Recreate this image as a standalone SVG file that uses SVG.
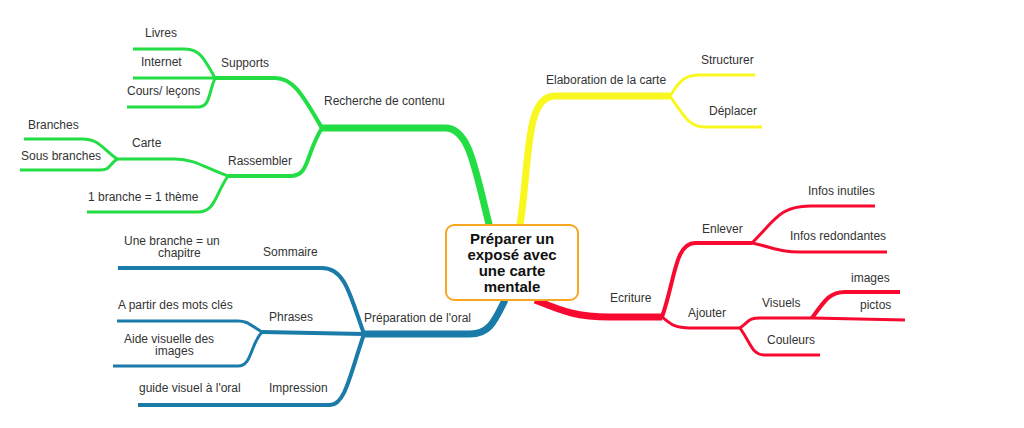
<svg xmlns="http://www.w3.org/2000/svg" width="1024" height="428" viewBox="0 0 1024 428">
<style>
.g{stroke:#22dd44}.b{stroke:#1b7ba8}.y{stroke:#f8f820}.r{stroke:#f80a30}
path{fill:none;stroke-linecap:butt}
.w1{stroke-width:7}.w2{stroke-width:4}.w3{stroke-width:3}
text{font-family:"Liberation Sans",Arial,sans-serif;font-size:12px;fill:#333}
.t{font-size:15px;font-weight:bold;fill:#111;text-anchor:middle}
</style>
<rect width="1024" height="428" fill="#fff"/>
<g id="connectors">
<path class="g w1" d="M490,228 C475,170 470,128 445,128 L322,128"/>
<path class="g w2" d="M322,128 C305,100 295,78 275,78 L215,78"/>
<path class="g w3" d="M215,78 C205,60 200,49 185,49 L133,49"/>
<path class="g w3" d="M215,78 L133,78"/>
<path class="g w3" d="M215,78 C208,95 210,107 198,107 L127,107"/>
<path class="g w2" d="M322,128 C305,155 310,176 290,176 L228,176"/>
<path class="g w3" d="M228,176 C205,168 195,159 175,159 L117,159"/>
<path class="g w3" d="M117,159 C100,146 98,139 82,139 L24,139"/>
<path class="g w3" d="M117,159 C108,166 110,170 100,170 L20,170"/>
<path class="g w3" d="M228,176 C215,195 215,212 198,212 L87,212"/>
<path class="b w1" d="M505,300 C495,320 490,334 470,334 L364,334"/>
<path class="b w2" d="M364,334 C350,295 345,268 322,268 L118,268"/>
<path class="b w2" d="M364,334 L262,332"/>
<path class="b w3" d="M262,332 C250,325 248,321 238,321 L117,321"/>
<path class="b w3" d="M262,332 C250,345 252,366 238,366 L113,366"/>
<path class="b w2" d="M364,334 C350,375 345,405 330,405 L138,405"/>
<path class="y w1" d="M520,225 C530,160 525,96 555,96 L670,96"/>
<path class="y w3" d="M670,96 C680,80 685,75 700,75 L755,75"/>
<path class="y w3" d="M670,96 C685,118 690,127 705,127 L762,127"/>
<path class="r w1" d="M535,300 C560,310 575,317 610,317 L662,317"/>
<path class="r w2" d="M662,317 C675,280 675,243 695,243 L752,243"/>
<path class="r w3" d="M752,243 C775,220 780,206 810,206 L875,206"/>
<path class="r w3" d="M752,243 C775,248 780,252 800,252 L887,252"/>
<path class="r w3" d="M662,317 C672,325 675,328 690,328 L740,328"/>
<path class="r w3" d="M740,328 C750,320 750,318 760,318 L812,318"/>
<path class="r w3" d="M740,328 C752,345 752,355 765,355 L820,355"/>
<path class="r w2" d="M812,318 C825,300 830,292 845,292 L900,292"/>
<path class="r w3" d="M812,318 L905,320"/>
</g>
<g id="root">
<rect x="446" y="225" width="132" height="75" rx="8" fill="#fff" stroke="#f8a820" stroke-width="2"/>
<text class="t" x="512" y="244">Préparer  un</text>
<text class="t" x="512" y="260">exposé  avec</text>
<text class="t" x="512" y="276">une  carte</text>
<text class="t" x="512" y="292">mentale</text>
</g>
<g id="labels">
<text x="324" y="105">Recherche de contenu</text>
<text x="221" y="67">Supports</text>
<text x="145" y="37">Livres</text>
<text x="141" y="66">Internet</text>
<text x="127" y="95">Cours/ leçons</text>
<text x="228" y="165">Rassembler</text>
<text x="132" y="147">Carte</text>
<text x="28" y="129">Branches</text>
<text x="21" y="160">Sous branches</text>
<text x="88" y="201">1 branche = 1 thème</text>
<text x="364" y="322">Préparation de l'oral</text>
<text x="263" y="256">Sommaire</text>
<text x="124" y="245">Une  branche  =  un</text>
<text x="158" y="257">chapitre</text>
<text x="269" y="321">Phrases</text>
<text x="118" y="309">A partir des mots clés</text>
<text x="124" y="343">Aide  visuelle  des</text>
<text x="155" y="355">images</text>
<text x="269" y="392">Impression</text>
<text x="139" y="392">guide visuel à l'oral</text>
<text x="546" y="84">Elaboration de la carte</text>
<text x="701" y="64">Structurer</text>
<text x="709" y="115">Déplacer</text>
<text x="610" y="302">Ecriture</text>
<text x="702" y="233">Enlever</text>
<text x="808" y="195">Infos inutiles</text>
<text x="790" y="240">Infos redondantes</text>
<text x="688" y="317">Ajouter</text>
<text x="762" y="307">Visuels</text>
<text x="851" y="282">images</text>
<text x="860" y="309">pictos</text>
<text x="767" y="344">Couleurs</text>
</g>
</svg>
